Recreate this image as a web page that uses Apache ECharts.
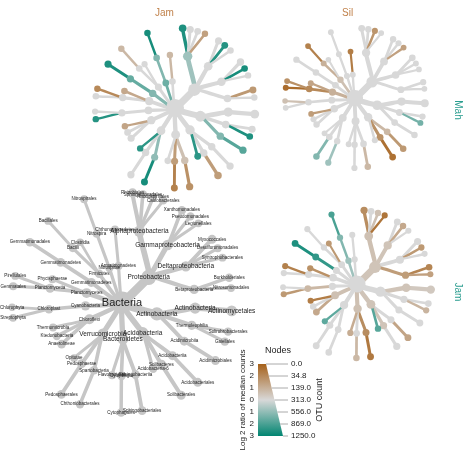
<!DOCTYPE html>
<html><head><meta charset="utf-8">
<script src="https://cdn.jsdelivr.net/npm/echarts@6/dist/echarts.min.js"></script>
<style>html,body{margin:0;padding:0;background:#fff}#c{width:474px;height:474px}</style>
</head><body><div id="c"></div>
<script>
const taxa = ["Bacteria","Proteobacteria","Actinobacteria","Acidobacteria","Bacteroidetes","Verrucomicrobia","Chloroflexi","Cyanobacteria","Planctomycetes","Gemmatimonadetes","Firmicutes","Nitrospirae","Armatimonadetes",
"Alphaproteobacteria","Gammaproteobacteria","Deltaproteobacteria","Betaproteobacteria",
"Rhizobiales","Sphingomonadales","Rhodospirillales","Caulobacterales",
"Xanthomonadales","Pseudomonadales","Legionellales",
"Myxococcales","Desulfuromonadales","Syntrophobacterales",
"Burkholderiales","Nitrosomonadales",
"Actinobacteria","Thermoleophilia","Acidimicrobiia",
"Actinomycetales","Solirubrobacterales","Gaiellales","Acidimicrobiales",
"Acidobacteriia","Solibacteres","Acidobacteria-6","Solibacterales","Acidobacteriales",
"Sphingobacteriia","Cytophagia","Flavobacteriia","Sphingobacteriales","Cytophagales",
"Spartobacteria","Pedosphaerae","Opitutae","Chthoniobacterales","Pedosphaerales",
"Anaerolineae","Ktedonobacteria","Thermomicrobia",
"Chloroplast","Streptophyta","Chlorophyta",
"Planctomycetia","Phycisphaerae","Gemmatales","Pirellulales",
"Gemmatimonadetes","Gemmatimonadales",
"Bacilli","Clostridia","Bacillales",
"Nitrospira","Nitrospirales","Chthonomonadetes"];
const parents = [-1,0,0,0,0,0,0,0,0,0,0,0,0,
1,1,1,1, 13,13,13,13, 14,14,14, 15,15,15, 16,16,
2,2,2, 29,30,30,31,
3,3,3,37,36,
4,4,4,41,42,
5,5,5,46,47,
6,6,6,
7,54,54,
8,8,57,57,
9,61,
10,10,63,
11,66,12];
const otuCounts = [1250,420,260,150,120,110,90,60,80,50,40,30,25,
150,110,100,60, 60,40,30,20, 40,30,20, 50,25,20, 35,20,
140,60,50, 120,35,25,45,
50,60,30,55,45,
50,40,25,45,35,
40,50,20,35,45,
40,30,20,
40,20,15,
50,25,25,20,
45,40,
25,15,20,
25,22,20];
const valJamTop = [0,0,0,0,0,0,0,0,0,-1.2,0,-1.5,0,
-0.8,0,0,0, -2.6,0,0,1.4, 0,-2.5,0, 0,-2.7,0, 1.6,0,
0,0,-1.2, 0,0,-2.6,-1.8,
0,0,-2.4,1.5,0,
0.6,1.5,0,1.8,2.2,
-1.0,0,-2.4,-2.7,0,
0,0,1.3,
0,-2.5,0,
0,1.2,0,2.0,
-1.6,-2.6,
0,0,0.8,
-1.2,-2.7,0.8];
const valSil = [0,0,0,0,0,0,0,0,1.0,0,0.6,0,0,
0,0,0,0, 0,0,1.7,0, 0,0,1.4, 0,0,0, 0,0,
0,0,0, 0,0,-1.4,0,
0.8,1.8,0,2.6,1.6,
0,0,0,0.8,0,
0,0,0,-0.8,-1.2,
0,0,1.5,
0,0,0.6,
2.0,1.3,2.7,1.8,
0,0,
1.0,0,2.2,
0,0,2.3];
const valJamBot = [0,0.5,0,0.5,0.6,0,0.6,0,0,0,0,-0.8,0,
0.6,0.5,0,1.5, 1.9,0,0.6,2.5, 0,1.2,0, 0,1.6,0, 2.1,1.4,
0.5,0,0, 0.4,0,0.9,0,
0,0.5,-1.8,0,1.3,
1.9,0,1.1,2.4,0.8,
0,0,-1.7,0,0,
1.2,0,2.3,
0.8,1.6,0,
0,1.8,0,2.2,
-2.3,-2.6,
0,1.6,0,
-1.2,-2.0,0];
const colTicks = ["-3","-2","-1","0","1","2","3"];
const sizeTicks = ["0.0","34.8","139.0","313.0","556.0","869.0","1250.0"];
const colLabels = ["Jam","Sil"];
const rowLabels = ["Mah","Jam"];

function lerp(a,b,t){return a.map((x,i)=>Math.round(x+(b[i]-x)*t));}
function colorOf(v){
  const g=[216,216,216], br=[166,97,26], te=[1,133,113];
  const t=Math.min(1,Math.abs(v)/3);
  const c = v>=0 ? lerp(g,br,t) : lerp(g,te,t);
  return 'rgb('+c.join(',')+')';
}
function build(vals, scale, labels){
  const nodes = taxa.map((n,i)=>{
    const s = Math.sqrt(otuCounts[i]/1250);
    const col = vals ? colorOf(vals[i]) : '#c6c6c6';
    const o = {name:n, value:otuCounts[i], children:[],
      symbolSize:(5+s*14)*scale,
      itemStyle:{color:col, borderWidth:0},
      lineStyle:{color:col, width:Math.max(1.5,(1.2+s*11)*scale)}};
    o.label = labels ? {show:true, rotate:0, position:'inside', color:'#222',
        fontSize: i===0?11:(otuCounts[i]>=100?6.5:4.5), fontFamily:'Liberation Sans'} : {show:false};
    return o;
  });
  let root;
  parents.forEach((p,i)=>{ if(p<0) root=nodes[i]; else nodes[p].children.push(nodes[i]); });
  return root;
}
function series(vals, box, scale, labels){
  return {type:'tree', layout:'radial', data:[build(vals,scale,labels)],
    left:box[0], top:box[1], width:box[2], height:box[3],
    expandAndCollapse:false, initialTreeDepth:-1, roam:false, animation:false,
    symbol:'circle', lineStyle:{curveness:0.1},
    emphasis:{disabled:true}};
}
const chart = echarts.init(document.getElementById('c'));
const gradStops=[{offset:0,color:'rgb(166,97,26)'},{offset:0.5,color:'rgb(216,216,216)'},{offset:1,color:'rgb(1,133,113)'}];
const graphics = [];
colLabels.forEach((t,i)=>graphics.push({type:'text',left:[155,342][i],top:8,style:{text:t,fill:'#c0814a',fontSize:10,fontFamily:'Liberation Sans'}}));
rowLabels.forEach((t,i)=>graphics.push({type:'text',x:458,y:[110,292][i],rotation:-Math.PI/2,style:{text:t,fill:'#2a9d8f',fontSize:10,fontFamily:'Liberation Sans',align:'center',verticalAlign:'middle'}}));
graphics.push({type:'text',left:265,top:346,style:{text:'Nodes',fontSize:9,fill:'#222',fontFamily:'Liberation Sans'}});
graphics.push({type:'polygon',shape:{points:[[258,364],[266,364],[283,436],[258,436]]},style:{fill:new echarts.graphic.LinearGradient(0,0,0,1,gradStops)}});
colTicks.forEach((t,i)=>{const y=364+i*12;
  graphics.push({type:'text',x:254,y:y,style:{text:t.replace('-',''),fontSize:8,fill:'#222',align:'right',verticalAlign:'middle',fontFamily:'Liberation Sans'}});});
sizeTicks.forEach((t,i)=>{const y=364+i*12; const xr=266+17*(i/6);
  graphics.push({type:'line',shape:{x1:xr,y1:y,x2:288,y2:y},style:{stroke:'#aaa',lineWidth:1}});
  graphics.push({type:'text',x:291,y:y,style:{text:t,fontSize:8,fill:'#222',verticalAlign:'middle',fontFamily:'Liberation Sans'}});});
graphics.push({type:'text',x:320,y:400,rotation:Math.PI/2,style:{text:'OTU count',fontSize:9,fill:'#222',align:'center',verticalAlign:'middle',fontFamily:'Liberation Sans'}});
graphics.push({type:'text',x:243,y:400,rotation:Math.PI/2,style:{text:'Log 2 ratio of median counts',fontSize:8,fill:'#222',align:'center',verticalAlign:'middle',fontFamily:'Liberation Sans'}});
chart.setOption({animation:false, graphic:graphics, series:[
  series(valJamTop,[95,28,160,160],0.95,false),
  series(valSil,[285,28,140,140],0.85,false),
  series(valJamBot,[283,210,148,148],0.9,false),
  series(null,[12,180,220,245],1.15,true)
]});
</script></body></html>
